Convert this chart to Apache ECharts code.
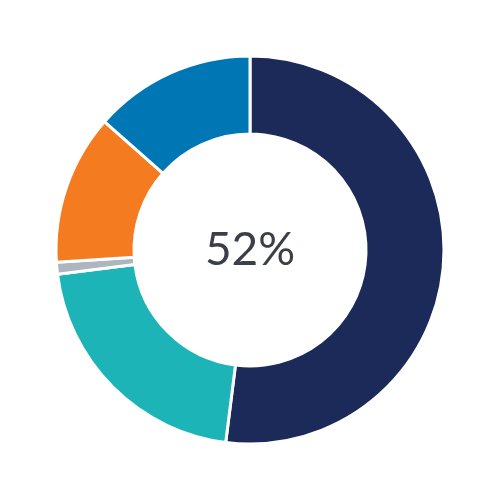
<!DOCTYPE html>
<html lang="en">
<head>
    <meta charset="UTF-8">
    <title>echarts</title>
    <style>
        html, body { margin: 0; padding: 0; background: #fff; }
    </style>
</head>
<body>
<div id="main" style="width: 500px;height:500px;"></div>
<script src="https://cdn.jsdelivr.net/npm/echarts@6/dist/echarts.min.js"></script>
<script>
    // 数据
    let names = ['A', 'B', 'C', 'D', 'E'];
    let values = [52, 21, 1, 12.5, 13.5];
    let colors = ['#1c2a5a', '#1cb4b7', '#adb5bf', '#f47b20', '#0077b5'];
    let centerLabel = '52%';

    function buildChart() {
        let chart = document.getElementById('main');
        let echart = echarts.init(chart);
        let seriesData = [];
        for (let i = 0; i < values.length; i++) {
            seriesData.push({name: names[i], value: values[i], itemStyle: {color: colors[i]}});
        }
        let option = {
            animation: false,
            title: {
                text: centerLabel,
                left: 'center',
                top: 'middle',
                textStyle: {
                    fontFamily: 'Lato',
                    fontWeight: 'normal',
                    fontSize: 46,
                    color: '#3b4048'
                }
            },
            series: [
                {
                    type: 'pie',
                    center: [250, 250],
                    radius: [116, 194],
                    startAngle: 90,
                    clockwise: true,
                    label: {show: false},
                    labelLine: {show: false},
                    itemStyle: {borderColor: '#fff', borderWidth: 3},
                    data: seriesData
                }
            ]
        };
        echart.setOption(option);
    }

    buildChart();
</script>
</body>
</html>
